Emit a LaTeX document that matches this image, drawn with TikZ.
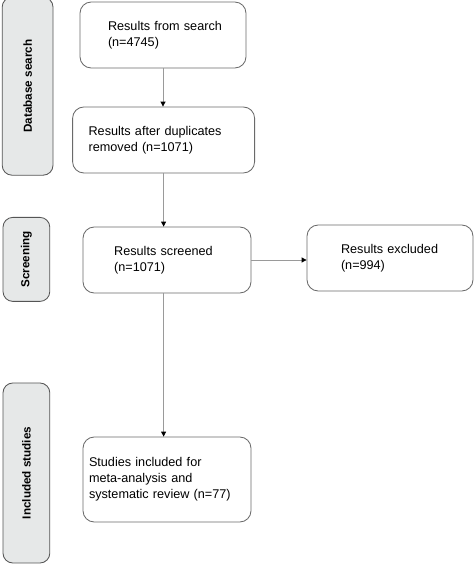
\documentclass[tikz,border=0pt]{standalone}
\usepackage{fontspec}
\setmainfont{Liberation Sans}
\usetikzlibrary{arrows.meta}
\definecolor{framegray}{HTML}{6A6A6A}
\definecolor{phasefill}{HTML}{E6E8E8}
\definecolor{linkgray}{HTML}{9A9A9A}
\tikzset{
    stagebox/.style={draw=framegray,fill=white,rounded corners=8pt,line width=0.6pt,
        minimum width=4.15cm,minimum height=1.65cm,align=left,font=\fontsize{9}{11.4}\selectfont},
    phasebox/.style={draw=framegray!80!black,fill=phasefill,rounded corners=7pt,line width=0.6pt,
        minimum height=1.2cm,font=\fontsize{8.3}{10}\selectfont\bfseries},
    link/.style={draw=linkgray,line width=0.6pt,-{Triangle[length=3.5pt,width=3.5pt,fill=black,color=black]}}
}
\begin{document}
\begin{tikzpicture}
        \useasboundingbox (0,0) rectangle (11.85,14.175);
        \begin{scope}
        \clip (0,0) rectangle (11.85,14.175);

        % phases on the left
        \node[phasebox,minimum width=4.45cm,minimum height=1.27cm,rotate=90] (dbs) at (0.69,12.02) {Database search};
        \node[phasebox,minimum width=2.1cm,minimum height=1.17cm,rotate=90] (scr) at (0.66,7.69) {Screening};
        \node[phasebox,minimum width=4.5cm,minimum height=1.17cm,rotate=90] (inc) at (0.66,2.35) {Included studies};
        \end{scope}

        % records
        \node[stagebox,text width=3.45cm,inner xsep=0.35cm] (found) at (4.075,13.3) {\hspace*{0.35cm}Results from search\\\hspace*{0.35cm}(n=4745)};
        \node[stagebox,text width=3.75cm,inner xsep=0.4cm] (dedup) at (4.09,10.675) {Results after duplicates\\removed (n=1071)};
        \node[stagebox,text width=3.4cm,inner xsep=0.4cm] (screened) at (4.175,7.675) {\hspace*{0.38cm}Results screened\\\hspace*{0.38cm}(n=1071)};
        \node[stagebox,text width=3.35cm,inner xsep=0.4cm] (excluded) at (9.75,7.725) {\hspace*{0.45cm}Results excluded\\\hspace*{0.45cm}(n=994)};
        \node[stagebox,minimum width=4.2cm,minimum height=2.125cm,text width=3.9cm,inner xsep=0.15cm] (included) at (4.175,2.1875) {Studies included for\\meta-analysis and\\systematic review (n=77)\\[5pt]};

        % flow
        \draw[link] (found.south) -- (found.south |- dedup.north);
        \draw[link] (dedup.south) -- (dedup.south |- screened.north);
        \draw[link] (screened.east) -- (screened.east -| excluded.west);
        \draw[link] (dedup.south |- screened.south) -- (dedup.south |- included.north);
    \end{tikzpicture}
\end{document}
